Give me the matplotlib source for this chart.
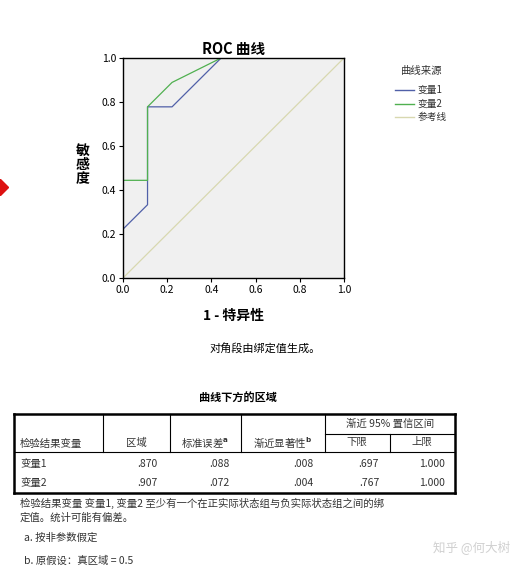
import matplotlib
matplotlib.use("Agg")
import matplotlib.pyplot as plt
from matplotlib.lines import Line2D

plt.rcParams['font.family'] = ['Noto Sans CJK SC', 'DejaVu Sans']

# ROC points
fpr1 = [0, 0, 0.111, 0.111, 0.222, 0.444, 1.0]
tpr1 = [0, 0.222, 0.333, 0.778, 0.778, 1.0, 1.0]
fpr2 = [0, 0, 0.111, 0.111, 0.222, 0.444, 1.0]
tpr2 = [0, 0.444, 0.444, 0.778, 0.889, 1.0, 1.0]
ticks = [0.0, 0.2, 0.4, 0.6, 0.8, 1.0]

# table data
row_names = ["变量1", "变量2"]
area = [".870", ".907"]
std_err = [".088", ".072"]
sig = [".008", ".004"]
lower = [".697", ".767"]
upper = ["1.000", "1.000"]

W, H = 532, 572
fig = plt.figure(figsize=(W / 100, H / 100), dpi=100)

# page layer in pixel coords
page = fig.add_axes([0, 0, 1, 1])
page.set_xlim(0, W)
page.set_ylim(H, 0)
page.axis('off')

# ROC axes: x 123..344 px, y 58..278 px
ax = fig.add_axes([123 / W, 1 - 278 / H, (344 - 123) / W, (278 - 58) / H])
ax.set_facecolor('#f0f0f0')
ax.plot([0, 1], [0, 1], color='#d8d8b0', lw=0.9)
ax.plot(fpr1, tpr1, color='#5060a8', lw=0.9)
ax.plot(fpr2, tpr2, color='#50b050', lw=0.9)
ax.set_xlim(0, 1)
ax.set_ylim(0, 1)
ax.set_xticks(ticks)
ax.set_yticks(ticks)
ax.set_xticklabels([f"{t:.1f}" for t in ticks])
ax.set_yticklabels([f"{t:.1f}" for t in ticks])
ax.tick_params(labelsize=7.5, length=3, width=0.8, pad=2)
for s in ax.spines.values():
    s.set_linewidth(1.0)
ax.set_title("ROC 曲线", fontsize=10.5, fontweight='bold', pad=3)
ax.set_xlabel("1 - 特异性", fontsize=10, fontweight='bold', labelpad=10)
page.text(83, 165, "敏\n感\n度", fontsize=10, fontweight='bold', ha='center', va='center', linespacing=1.0)

# legend
page.text(422, 71, "曲线来源", fontsize=7.5, ha='center', va='center', color='#333333')
for i, (lab, col) in enumerate([("变量1", '#5060a8'), ("变量2", '#50b050'), ("参考线", '#d8d8b0')]):
    y = 90 + i * 13.5
    page.add_line(Line2D([395, 414], [y, y], color=col, lw=1.0))
    page.text(418, y, lab, fontsize=7, va='center', color='#333333')

page.text(265, 348, "对角段由绑定值生成。", fontsize=8, ha='center', va='center')

# red marker on the left
page.plot([0], [187], marker='D', color='#dd1111', markersize=8, clip_on=False)

# table
page.text(238, 398, "曲线下方的区域", fontsize=8, fontweight='bold', ha='center', va='center')
cols = [14, 103, 170, 241, 325, 390, 455]
top, hdiv, hbot, bot = 414, 434, 452, 493
lw_thick = 1.8
page.add_line(Line2D([cols[0], cols[-1]], [top, top], color='k', lw=lw_thick))
page.add_line(Line2D([cols[0], cols[-1]], [bot, bot], color='k', lw=lw_thick))
page.add_line(Line2D([cols[0], cols[0]], [top, bot], color='k', lw=lw_thick))
page.add_line(Line2D([cols[-1], cols[-1]], [top, bot], color='k', lw=lw_thick))
page.add_line(Line2D([cols[0], cols[-1]], [hbot, hbot], color='k', lw=0.8))
page.add_line(Line2D([cols[4], cols[-1]], [hdiv, hdiv], color='k', lw=0.8))
for x in cols[1:-1]:
    y0 = hdiv if x == cols[5] else top
    page.add_line(Line2D([x, x], [y0, hbot], color='k', lw=0.8))

fs = 7.5
page.text(20, 444, "检验结果变量", fontsize=fs, va='center', color='#333333')
page.text(136, 443, "区域", fontsize=fs, ha='center', va='center', color='#333333')
page.text(205, 443, "标准误差$^{\\mathbf{a}}$", fontsize=fs, ha='center', va='center', color='#333333')
page.text(283, 443, "渐近显著性$^{\\mathbf{b}}$", fontsize=fs, ha='center', va='center', color='#333333')
page.text(390, 424, "渐近 95% 置信区间", fontsize=fs, ha='center', va='center', color='#333333')
page.text(357, 442, "下限", fontsize=fs, ha='center', va='center', color='#333333')
page.text(422, 442, "上限", fontsize=fs, ha='center', va='center', color='#333333')

for i in range(len(row_names)):
    y = 464 + i * 19
    page.text(20, y, row_names[i], fontsize=fs, va='center', color='#333333')
    for val, xr in zip([area[i], std_err[i], sig[i], lower[i], upper[i]], [158, 230, 313, 379, 445]):
        page.text(xr, y, val, fontsize=fs, ha='right', va='center', color='#333333')

page.text(20, 503, "检验结果变量 变量1, 变量2 至少有一个在正实际状态组与负实际状态组之间的绑", fontsize=fs, va='center', color='#333333')
page.text(20, 518, "定值。统计可能有偏差。", fontsize=fs, va='center', color='#333333')
page.text(24, 538, "a. 按非参数假定", fontsize=fs, va='center', color='#333333')
page.text(24, 561, "b. 原假设：真区域 = 0.5", fontsize=fs, va='center', color='#333333')
page.text(510, 548, "知乎 @何大树", fontsize=9, ha='right', va='center', color='#d0d0d0')

fig.savefig("out.png", dpi=100)
